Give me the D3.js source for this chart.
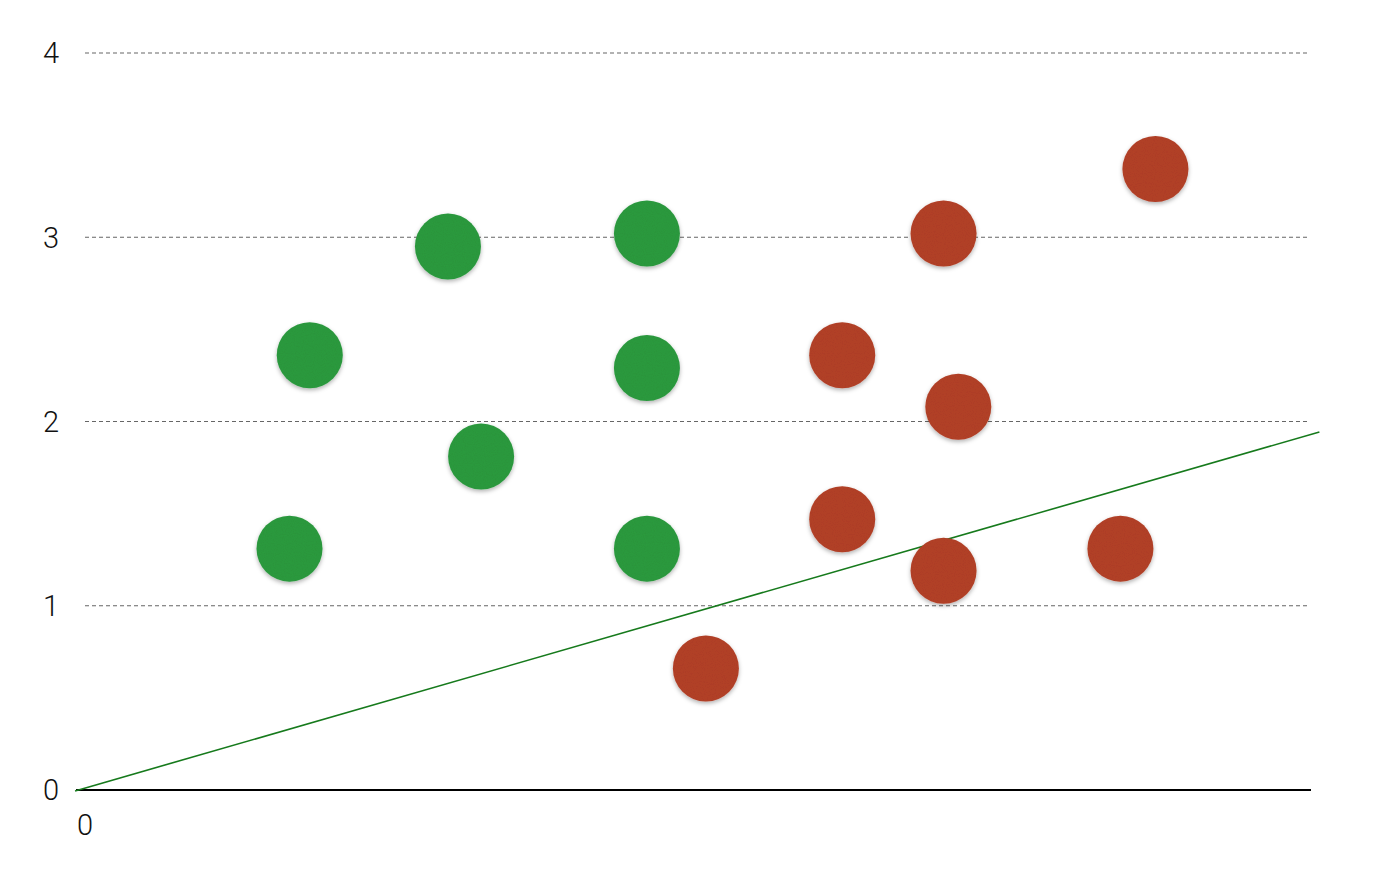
<!DOCTYPE html>
<html>
<head>
<meta charset="utf-8">
<script src="https://cdn.jsdelivr.net/npm/d3@7"></script>
<style>
  body { margin: 0; background: #fff; }
  svg { display: block; }
  .tick-label { font-family: "Roboto", "Liberation Sans", sans-serif; font-weight: 300; font-size: 29px; fill: #111; }
</style>
</head>
<body>
<script>
// values (same unit on both axes)
const yTicks = [0, 1, 2, 3, 4]
const xTicks = [0]

const greenX = [1.11, 1.22, 1.97, 2.15, 3.05, 3.05, 3.05]
const greenY = [1.31, 2.36, 2.95, 1.81, 3.02, 2.29, 1.31]

const redX = [3.37, 4.11, 4.11, 4.66, 4.74, 4.66, 5.62, 5.81]
const redY = [0.66, 2.36, 1.47, 3.02, 2.08, 1.19, 1.31, 3.37]

// the separating line
const lineX = [-0.054, 6.70]
const lineY = [-0.005, 1.943]

const width = 1400
const height = 877

const svg = d3.select("body").append("svg")
    .attr("width", width)
    .attr("height", height)

const x = d3.scaleLinear().domain([0, 6.649]).range([85, 1310])
const y = d3.scaleLinear().domain([0, 4]).range([790, 53])

const defs = svg.append("defs")
const f = defs.append("filter").attr("id", "disc")
    .attr("x", "-30%").attr("y", "-30%").attr("width", "160%").attr("height", "160%")
f.append("feTurbulence").attr("type", "fractalNoise").attr("baseFrequency", 0.9)
    .attr("numOctaves", 2).attr("seed", 3).attr("result", "noise")
f.append("feColorMatrix").attr("in", "noise").attr("type", "matrix")
    .attr("values", "0 0 0 0 0  0 0 0 0 0  0 0 0 0 0  0 0 0 0.12 0").attr("result", "grain")
f.append("feComposite").attr("in", "grain").attr("in2", "SourceGraphic").attr("operator", "in").attr("result", "grainIn")
f.append("feMerge").call(m => {
    m.append("feMergeNode").attr("in", "SourceGraphic")
    m.append("feMergeNode").attr("in", "grainIn")
}).attr("result", "textured")
f.append("feDropShadow").attr("in", "textured").attr("dx", 0).attr("dy", 2)
    .attr("stdDeviation", 2.2).attr("flood-color", "#000").attr("flood-opacity", 0.3)

// dashed gridlines
svg.append("g")
    .selectAll("line")
    .data(yTicks.filter(d => d > 0))
    .join("line")
    .attr("x1", x(0)).attr("x2", 1307)
    .attr("y1", d => y(d)).attr("y2", d => y(d))
    .attr("stroke", "#666")
    .attr("stroke-width", 1.2)
    .attr("stroke-dasharray", "4,3")

// y tick labels
svg.append("g")
    .selectAll("text")
    .data(yTicks)
    .join("text")
    .attr("class", "tick-label")
    .attr("x", 51)
    .attr("y", d => y(d))
    .attr("dy", "0.36em")
    .attr("text-anchor", "middle")
    .text(d => d)

// x tick labels
svg.append("g")
    .selectAll("text")
    .data(xTicks)
    .join("text")
    .attr("class", "tick-label")
    .attr("x", d => x(d))
    .attr("y", 825)
    .attr("dy", "0.36em")
    .attr("text-anchor", "middle")
    .text(d => d)

// x axis baseline
svg.append("line")
    .attr("x1", 76).attr("x2", 1311)
    .attr("y1", y(0)).attr("y2", y(0))
    .attr("stroke", "#000")
    .attr("stroke-width", 2)

// separating line
svg.append("path")
    .datum(d3.zip(lineX, lineY))
    .attr("d", d3.line().x(d => x(d[0])).y(d => y(d[1])))
    .attr("stroke", "#167a1c")
    .attr("stroke-width", 1.6)
    .attr("fill", "none")

const dots = svg.append("g").attr("filter", "url(#disc)")

dots.selectAll(".green")
    .data(d3.zip(greenX, greenY))
    .join("circle")
    .attr("class", "green")
    .attr("cx", d => x(d[0]))
    .attr("cy", d => y(d[1]))
    .attr("r", 33)
    .attr("fill", "#2f9c41")

dots.selectAll(".red")
    .data(d3.zip(redX, redY))
    .join("circle")
    .attr("class", "red")
    .attr("cx", d => x(d[0]))
    .attr("cy", d => y(d[1]))
    .attr("r", 33)
    .attr("fill", "#b5422b")
</script>
</body>
</html>
